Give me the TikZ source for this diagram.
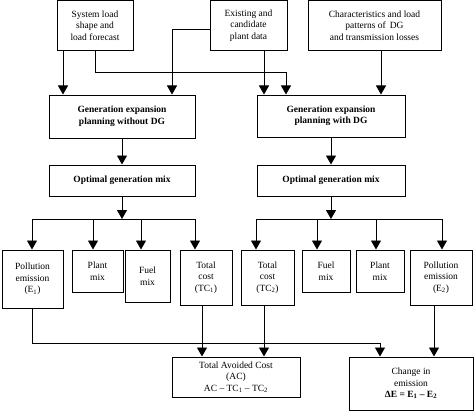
\documentclass[tikz,border=0pt]{standalone}
\usepackage{fontspec}
\setmainfont{Liberation Serif}
\usetikzlibrary{arrows.meta}
\begin{document}
\begin{tikzpicture}[x=1pt,y=-1pt,
  box/.style={draw,line width=1pt,align=center,inner sep=0pt,font=\fontsize{9.5}{11.5}\selectfont},
  bbox/.style={box,font=\fontsize{9.5}{11.5}\selectfont\bfseries},
  arr/.style={line width=0.9pt,-{Triangle[length=9pt,width=10pt]}},
  ln/.style={line width=0.9pt}]
\useasboundingbox (0,0) rectangle (474,412);
% top inputs
\node[box,minimum width=76,minimum height=50] (load) at (95,25.5) {System load\\shape and\\load forecast};
\node[box,minimum width=77,minimum height=50] (plant) at (248.5,25.5) {Existing and\\candidate\\plant data};
\node[box,minimum width=133,minimum height=50] (dg) at (374.5,25.5) {Characteristics and load\\patterns of\, DG\\and transmission losses};
% planning
\node[bbox,minimum width=146,minimum height=43] (genL) at (122,116.5) {Generation expansion\\planning without DG};
\node[bbox,minimum width=148,minimum height=42] (genR) at (331,116) {Generation expansion\\planning with DG};
\node[bbox,minimum width=146,minimum height=31] (optL) at (122,180.5) {Optimal generation mix};
\node[bbox,minimum width=148,minimum height=31] (optR) at (331,180.5) {Optimal generation mix};
% results
\node[box,minimum width=61,minimum height=58] (e1) at (32.5,279) {Pollution\\emission\\(E\textsubscript{1})};
\node[box,minimum width=51,minimum height=42] (pmL) at (97.5,271) {Plant\\mix};
\node[box,minimum width=45,minimum height=52] (fmL) at (147.5,276) {Fuel\\mix};
\node[box,minimum width=52,minimum height=55] (tc1) at (206,277.5) {Total\\cost\\(TC\textsubscript{1})};
\node[box,minimum width=53,minimum height=55] (tc2) at (267.5,277.5) {Total\\cost\\(TC\textsubscript{2})};
\node[box,minimum width=48,minimum height=42] (fmR) at (326,271) {Fuel\\mix};
\node[box,minimum width=48,minimum height=42] (pmR) at (380,271) {Plant\\mix};
\node[box,minimum width=62,minimum height=55] (e2) at (441,277.5) {Pollution\\emission\\(E\textsubscript{2})};
% final
\node[box,minimum width=128,minimum height=40] (ac) at (236,377) {Total Avoided Cost\\(AC)\\AC -- TC\textsubscript{1} -- TC\textsubscript{2}};
\node[box,minimum width=124,minimum height=53] (ce) at (411,383.5) {Change in\\emission\\\textbf{ΔE = E\textsubscript{1} -- E\textsubscript{2}}};
% coordinates
\coordinate (jL) at (122,219);
\coordinate (jR) at (331,219);
\coordinate (jE) at (32,343);
\coordinate (jP) at (172,29);
\coordinate (jT) at (95,72);
% top connectors
\draw[arr] (load.south -| 63,0) -- (genL.north -| 63,0);
\draw[arr] (plant.west |- jP) -- (jP) -- (genL.north -| jP);
\draw[ln] (load.south -| jT) -- (jT);
\draw[arr] (jT) -- (jT -| 286,0) -- (genR.north -| 286,0);
\draw[arr] (plant.south -| 264,0) -- (genR.north -| 264,0);
\draw[arr] (dg.south -| 381,0) -- (genR.north -| 381,0);
% planning to mix
\draw[arr] (genL) -- (optL);
\draw[arr] (genR) -- (optR);
\draw[arr] (optL) -- (jL);
\draw[arr] (optR) -- (jR);
% branches
\draw[ln] (jL -| 32,0) -- (jL -| 195,0);
\draw[ln] (jR -| 256,0) -- (jR -| 442,0);
\draw[arr] (jL -| 32,0) -- (e1.north -| 32,0);
\draw[arr] (jL -| 93,0) -- (pmL.north -| 93,0);
\draw[arr] (jL -| 141,0) -- (fmL.north -| 141,0);
\draw[arr] (jL -| 195,0) -- (tc1.north -| 195,0);
\draw[arr] (jR -| 256,0) -- (tc2.north -| 256,0);
\draw[arr] (jR -| 317,0) -- (fmR.north -| 317,0);
\draw[arr] (jR -| 376,0) -- (pmR.north -| 376,0);
\draw[arr] (jR -| 442,0) -- (e2.north -| 442,0);
% to final
\draw[arr] (tc1.south -| 202,0) -- (ac.north -| 202,0);
\draw[arr] (tc2.south -| 264,0) -- (ac.north -| 264,0);
\draw[arr] (e1.south -| jE) -- (jE) -- (jE -| 380,0) -- (ce.north -| 380,0);
\draw[arr] (e2.south -| 434,0) -- (ce.north -| 434,0);
\end{tikzpicture}
\end{document}
